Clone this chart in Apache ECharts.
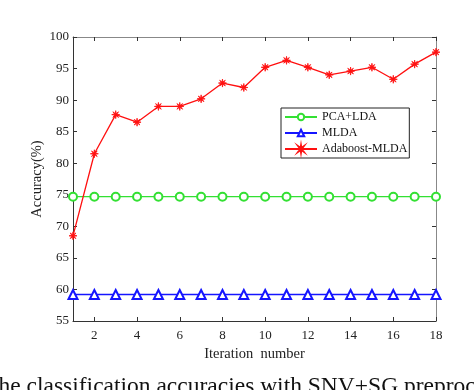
<!DOCTYPE html>
<html><head><meta charset="utf-8">
<script src="https://cdn.jsdelivr.net/npm/echarts@6/dist/echarts.min.js"></script>
<style>html,body{margin:0;padding:0;background:#fff}#c{width:474px;height:390px}</style>
</head><body><div id="c"></div>
<script>
const iterations = [1,2,3,4,5,6,7,8,9,10,11,12,13,14,15,16,17,18];
const pcaLda = [74.7,74.7,74.7,74.7,74.7,74.7,74.7,74.7,74.7,74.7,74.7,74.7,74.7,74.7,74.7,74.7,74.7,74.7];
const mlda = [59.2,59.2,59.2,59.2,59.2,59.2,59.2,59.2,59.2,59.2,59.2,59.2,59.2,59.2,59.2,59.2,59.2,59.2];
const adaboostMlda = [68.5,81.5,87.7,86.5,89.0,89.0,90.2,92.7,92.0,95.2,96.3,95.2,94.0,94.6,95.2,93.3,95.7,97.6];
const seriesNames = ['PCA+LDA','MLDA','Adaboost-MLDA'];
const xLabel = 'Iteration  number';
const yLabel = 'Accuracy(%)';
const caption = 'the classification accuracies with SNV+SG preprocessing';

function asteriskPath(){
  let pts=[];
  const n=8;
  for(let i=0;i<n*2;i++){
    const a=Math.PI*i/n;
    const r=(i%2===0)?10:3;
    pts.push((10+r*Math.sin(a)).toFixed(2)+' '+(10-r*Math.cos(a)).toFixed(2));
  }
  return 'path://M'+pts.join(' L')+' Z';
}
const font='"Liberation Serif","DejaVu Serif",serif';
const even = (i)=> (i+1)%2===0;
const chart = echarts.init(document.getElementById('c'));
chart.setOption({
  animation:false,
  backgroundColor:'#fff',
  textStyle:{fontFamily:font},
  grid:{left:73,right:38,top:37,bottom:69,containLabel:false},
  legend:{
    left:281, top:108, orient:'vertical',
    itemWidth:32, itemHeight:8, itemGap:4,
    padding:[3,2,3,3],
    borderColor:'#222', borderWidth:1, backgroundColor:'#fff',
    textStyle:{fontFamily:font,fontSize:12,color:'#111'},
    data:seriesNames
  },
  xAxis:[{
    type:'category', data:iterations, boundaryGap:false,
    name:xLabel, nameLocation:'middle', nameGap:25,
    nameTextStyle:{fontFamily:font,fontSize:14.5,color:'#222'},
    axisLine:{lineStyle:{color:'#333',width:1}},
    axisTick:{inside:true,length:4,interval:(i)=>even(i),lineStyle:{color:'#333'}},
    axisLabel:{interval:(i)=>even(i),fontFamily:font,fontSize:13,color:'#222',margin:8},
    splitLine:{show:false}
  },{
    type:'category', data:iterations, boundaryGap:false, position:'top',
    axisLine:{lineStyle:{color:'#888',width:1}},
    axisTick:{inside:true,length:4,interval:(i)=>even(i),lineStyle:{color:'#333'}},
    axisLabel:{show:false}, splitLine:{show:false}
  }],
  yAxis:[{
    type:'value', min:55, max:100, interval:5,
    name:yLabel, nameLocation:'middle', nameGap:28, nameMoveOverlap:false,
    nameTextStyle:{fontFamily:font,fontSize:14.5,color:'#222'},
    axisLine:{show:true,lineStyle:{color:'#333',width:1}},
    axisTick:{show:true,inside:true,length:4,lineStyle:{color:'#333'}},
    axisLabel:{fontFamily:font,fontSize:13,color:'#222',margin:4},
    splitLine:{show:false}
  },{
    type:'value', min:55, max:100, interval:5, position:'right',
    axisLine:{show:true,lineStyle:{color:'#888',width:1}},
    axisTick:{show:true,inside:true,length:4,lineStyle:{color:'#333'}},
    axisLabel:{show:false}, splitLine:{show:false}
  }],
  series:[
    {name:seriesNames[0],type:'line',data:pcaLda,symbol:'emptyCircle',symbolSize:8,
     lineStyle:{color:'#33e033',width:1.3},itemStyle:{color:'#33e033',borderColor:'#33e033',borderWidth:1.3}},
    {name:seriesNames[1],type:'line',data:mlda,symbol:'emptyTriangle',symbolSize:9,
     lineStyle:{color:'#1515ff',width:1.5},itemStyle:{color:'#1515ff',borderColor:'#1515ff',borderWidth:1.3}},
    {name:seriesNames[2],type:'line',data:adaboostMlda,symbol:asteriskPath(),symbolSize:8,
     lineStyle:{color:'#ff1010',width:1.3},itemStyle:{color:'#ff1010',borderColor:'#ff1010',borderWidth:0.8}}
  ],
  graphic:[{
    type:'text', left:-8, top:375,
    style:{text:caption,font:'23.5px '+font,fill:'#111'}
  }]
});
</script></body></html>
